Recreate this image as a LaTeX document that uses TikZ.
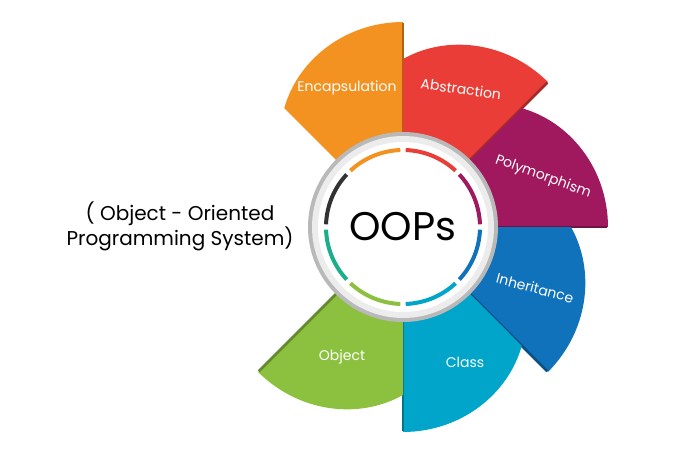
\documentclass[tikz,border=0pt]{standalone}
\usepackage{fontspec}
\setmainfont{Poppins}
\definecolor{cEnc}{HTML}{F39220}
\definecolor{cAbs}{HTML}{EA3D37}
\definecolor{cPol}{HTML}{A0195E}
\definecolor{cInh}{HTML}{0F72BA}
\definecolor{cCla}{HTML}{00A5C9}
\definecolor{cObj}{HTML}{8CC13F}
\definecolor{cTea}{HTML}{1AAE8A}
\definecolor{cDrk}{HTML}{333333}
\begin{document}
\begin{tikzpicture}[x=1pt,y=1pt,
  lbl/.style={text=white,font=\fontsize{14}{16}\selectfont},
  seg/.style={line width=4pt}]
\useasboundingbox (0,0) rectangle (689,459);
\coordinate (c) at (403,232);
\begin{scope}[shift={(403,232)}]
\foreach \a/\col in {90/cEnc,45/cAbs,0/cPol,-45/cInh,-90/cCla,225/cObj}{
  \fill[\col] (0,0) -- plot[domain=0:45,samples=30] ({\a+\x}:{205-37*(\x/45)^2}) -- cycle;
  \draw[\col!70!black,line width=2.5pt] (0,0) -- (\a:204);
}
\fill[gray!55] (0,0) circle (95);
\fill[gray!15] (0,0) circle (91);
\fill[white] (0,0) circle (85);
\foreach \s/\e/\col in {92/133/cEnc,47/88/cAbs,2/43/cPol,-43/-2/cInh,-88/-47/cCla,-133/-92/cObj,182/223/cTea,137/178/cDrk}{
  \draw[seg,\col] (\s:77) arc[start angle=\s,end angle=\e,radius=77];
}
\end{scope}
\node (oops) at (c) {\fontsize{40}{44}\selectfont OOPs};
\node[lbl] (enc) at (347,371) {Encapsulation};
\node[lbl,rotate=-8] (abs) at (461,370) {Abstraction};
\node[lbl,rotate=-20] (pol) at (543,282) {Polymorphism};
\node[lbl,rotate=-15] (inh) at (535,171) {Inheritance};
\node[lbl] (cla) at (465,97) {Class};
\node[lbl] (obj) at (342,102) {Object};
\node[align=center,font=\fontsize{20}{25}\selectfont] (full) at (180,233)
  {( Object - Oriented\\Programming System)};
\end{tikzpicture}
\end{document}
